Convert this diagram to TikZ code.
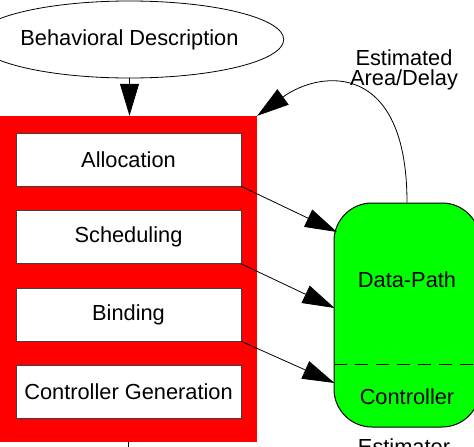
\documentclass[tikz,border=0pt]{standalone}
\usepackage{fontspec}
\setmainfont{Liberation Sans}
\usetikzlibrary{arrows.meta,calc,shapes.geometric}
\begin{document}
\begin{tikzpicture}[x=1pt,y=-1pt,font=\fontsize{21.8}{20}\selectfont,
  stagebox/.style={draw=black!75,fill=white,line width=0.8pt,minimum width=225pt,minimum height=53pt,inner sep=0pt},
  arr/.style={-{Triangle[length=32pt,width=19pt]},line width=0.8pt}]
\useasboundingbox (0,0) rectangle (474,447);
\begin{scope}
\clip (0,0) rectangle (474,447);
% red process frame
\node[fill=red,minimum width=257pt,minimum height=326pt,inner sep=0pt] (proc) at (128.5,279) {};
\node[stagebox] (alloc) at (128.5,159.5) {Allocation};
\node[stagebox] (sched) at (128.5,237) {Scheduling};
\node[stagebox] (bind) at (128.5,314.5) {Binding};
\node[stagebox] (ctrlgen) at (128.5,392) {Controller Generation};
% behavioral description
\node[ellipse,draw,line width=0.8pt,fill=white,minimum width=255pt,minimum height=77pt,inner sep=0pt] (beh) at (129.5,39.5) {Behavioral Description};
% estimator
\node[draw,fill=green,line width=1pt,rounded corners=38pt,minimum width=146pt,minimum height=224pt,inner sep=0pt] (est) at (407,315) {};
\draw[dash pattern=on 13pt off 8pt,line width=0.8pt] ($(est.west)+(0,49)$) coordinate (dl) -- ($(est.east)+(0,49)$) coordinate (dr);
\node (dp) at (407,280) {Data-Path};
\node (ctl) at (407,397) {Controller};
\node[anchor=base] (estlbl) at (404,454) {Estimator};
\node[align=center] (feedlbl) at (404,70) {Estimated\\Area/Delay};
% connectors
\coordinate (t1) at (337,232);
\coordinate (t2) at (334.5,308);
\coordinate (t3) at (334.5,383);
\draw[arr] (alloc.south east) -- (t1);
\draw[arr] (sched.south east) -- (t2);
\draw[arr] (bind.south east) -- (t3);
\draw[arr] (beh.south) -- (beh.south |- proc.north);
\draw[arr] (est.north) .. controls (407,60) and (320,70) .. (proc.north east);
\draw[line width=0.8pt] (proc.south) -- ++(0,10) coordinate (below);
\end{scope}
\end{tikzpicture}
\end{document}
